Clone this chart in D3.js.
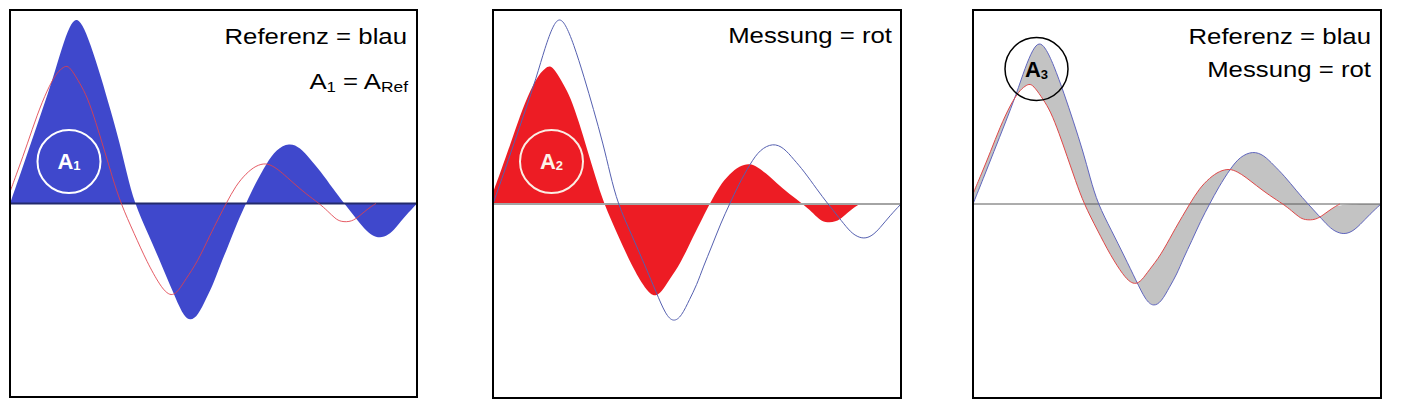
<!DOCTYPE html>
<html><head><meta charset="utf-8">
<script src="https://cdn.jsdelivr.net/npm/d3@7"></script>
<style>html,body{margin:0;padding:0;background:#fff;} svg{display:block;} text{white-space:pre;}</style>
</head><body>
<svg id="c" width="1402" height="419"></svg>
<script>
// ---- data (time in % of window, amplitude normalised) ----
const refT = [0, 2.5, 5.1, 7.9, 10.6, 12.8, 14.7, 16.2, 17.7, 19.7, 22.4, 24.6, 27.0, 28.7, 30.6,
  33.9, 37.1, 40.0, 42.3, 44.2, 46.2, 48.2, 49.9, 51.6, 53.6, 55.8, 58.0,
  60.2, 63.1, 65.4, 68.6, 71.3, 73.7, 76.2, 79.4, 82.1,
  84.8, 87.2, 88.9, 90.9, 92.9, 94.8, 97.3, 100];
const refV = [0, 0.15, 0.31, 0.48, 0.65, 0.81, 0.92, 0.96, 0.93, 0.83, 0.65, 0.49, 0.31, 0.155, 0,
  -0.155, -0.31, -0.455, -0.57, -0.61, -0.58, -0.49, -0.42, -0.32, -0.22, -0.10, 0,
  0.10, 0.21, 0.28, 0.315, 0.29, 0.23, 0.17, 0.075, 0,
  -0.07, -0.135, -0.165, -0.18, -0.165, -0.125, -0.06, 0];
const measT = [0, 2.0, 4.3, 6.6, 9.2, 11.3, 12.8, 14.0, 15.2, 17.2, 19.0, 21.1, 23.1, 25.1, 27.2,
  30.5, 33.7, 36.9, 38.6, 39.9, 41.3, 43.2, 46.0, 49.1, 51.4, 53.1,
  55.5, 58.0, 60.4, 62.9, 64.9, 66.8, 69.4, 72.7, 76.0,
  78.1, 79.9, 81.3, 84.0, 86.0, 88.0, 89.9];
const measV = [0.06, 0.175, 0.31, 0.455, 0.59, 0.67, 0.70, 0.715, 0.69, 0.62, 0.55, 0.42, 0.28, 0.14, 0,
  -0.155, -0.305, -0.425, -0.465, -0.475, -0.455, -0.39, -0.305, -0.165, -0.07, 0,
  0.093, 0.155, 0.196, 0.21, 0.19, 0.16, 0.11, 0.05, 0,
  -0.04, -0.078, -0.095, -0.095, -0.062, -0.026, 0];
const textRef = "Referenz = blau";
const textMeas = "Messung = rot";
const areaNames = ["1", "2", "3"];
const refSubscript = "Ref";

// ---- drawing ----
const svg = d3.select("#c");
const FONT = "'Liberation Sans', Arial, Helvetica, sans-serif";
const ref = refT.map((t, i) => ({t, v: refV[i]}));
const meas = measT.map((t, i) => ({t, v: measV[i]}));
const curve = d3.curveBasis;

function makePanel(L, R, T, B, yMax) {
  const x = d3.scaleLinear().domain([0, 100]).range([L, R]);
  const y = d3.scaleLinear().domain([-yMax, yMax]).range([B, T]);
  const g = svg.append("g");
  const line = d3.line().x(d => x(d.t)).y(d => y(d.v)).curve(curve);
  const area = d3.area().x(d => x(d.t)).y0(y(0)).y1(d => y(d.v)).curve(curve);
  return {x, y, g, line, area, L, R, T, B};
}
function zeroLine(p, color, w) {
  p.g.append("line").attr("x1", p.x(0)).attr("x2", p.x(100))
    .attr("y1", p.y(0)).attr("y2", p.y(0))
    .attr("stroke", color).attr("stroke-width", w);
}
function border(p) {
  p.g.append("rect").attr("x", p.L).attr("y", p.T).attr("width", p.R - p.L).attr("height", p.B - p.T)
    .attr("fill", "none").attr("stroke", "#000").attr("stroke-width", 2);
}
function circleLabel(p, cx, cy, sub, textColor, strokeColor, sw, dyBase) {
  p.g.append("circle").attr("cx", cx).attr("cy", cy).attr("r", 31.5)
    .attr("fill", "none").attr("stroke", strokeColor).attr("stroke-width", sw);
  const t = p.g.append("text").attr("x", cx).attr("y", cy + dyBase)
    .attr("text-anchor", "middle").attr("font-family", FONT).attr("font-weight", "bold")
    .attr("fill", textColor);
  t.append("tspan").attr("font-size", 22).text("A");
  t.append("tspan").attr("font-size", 13).attr("dy", 1.5).text(sub);
}
function legendLine(p, xr, yb, parts) {
  const g = p.g.append("g").attr("transform", `translate(${xr},${yb}) scale(1.12,1)`);
  const t = g.append("text").attr("x", 0).attr("y", 0).attr("text-anchor", "end")
    .attr("font-family", FONT).attr("fill", "#000");
  parts.forEach(pt => {
    const s = t.append("tspan").attr("font-size", pt.size).text(pt.text);
    if (pt.dy) s.attr("dy", pt.dy);
  });
}

// Panel 1: reference area A1
const p1 = makePanel(10, 417, 10, 397, 1);
p1.g.append("path").attr("d", p1.area(ref)).attr("fill", "#3f48cc");
zeroLine(p1, "#232a6c", 2);
p1.g.append("path").attr("d", p1.line(meas)).attr("fill", "none")
  .attr("stroke", "#e0404a").attr("stroke-width", 1).attr("opacity", 0.85);
circleLabel(p1, 69, 161.5, areaNames[0], "#fff", "#fff", 2, 7);
legendLine(p1, 407, 44, [{text: textRef, size: 23}]);
legendLine(p1, 408, 89, [
  {text: "A", size: 23}, {text: areaNames[0], size: 15, dy: 3},
  {text: " = A", size: 23, dy: -3}, {text: refSubscript, size: 15.5, dy: 3}]);
border(p1);

// Panel 2: measurement area A2
const p2 = makePanel(493, 901, 10, 398, 1);
p2.g.append("path").attr("d", p2.area(meas)).attr("fill", "#ed1c24");
zeroLine(p2, "#a4a4a4", 2);
p2.g.append("path").attr("d", p2.line(ref)).attr("fill", "none")
  .attr("stroke", "#5560b0").attr("stroke-width", 1);
circleLabel(p2, 551.5, 161.5, areaNames[1], "#fdf3ea", "#fbeee4", 2, 7);
legendLine(p2, 892, 43, [{text: textMeas, size: 23}]);
border(p2);

// Panel 3: difference area A3
const p3 = makePanel(973, 1381, 10, 398, 1.15);
const measClosed = meas.concat([{t: 100, v: 0}]);
const band = p3.line(ref) + p3.line(measClosed.slice().reverse()).replace(/^M/, "L") + "Z";
p3.g.append("path").attr("d", band).attr("fill", "#c3c3c3");
zeroLine(p3, "#5a5a5a", 1);
p3.g.append("path").attr("d", p3.line(ref)).attr("fill", "none")
  .attr("stroke", "#6066bf").attr("stroke-width", 1);
p3.g.append("path").attr("d", p3.line(meas)).attr("fill", "none")
  .attr("stroke", "#e04848").attr("stroke-width", 1);
circleLabel(p3, 1036.5, 69, areaNames[2], "#000", "#000", 1.5, 8);
legendLine(p3, 1371, 43.5, [{text: textRef, size: 23}]);
legendLine(p3, 1371, 77, [{text: textMeas, size: 23}]);
border(p3);
</script>
</body></html>
